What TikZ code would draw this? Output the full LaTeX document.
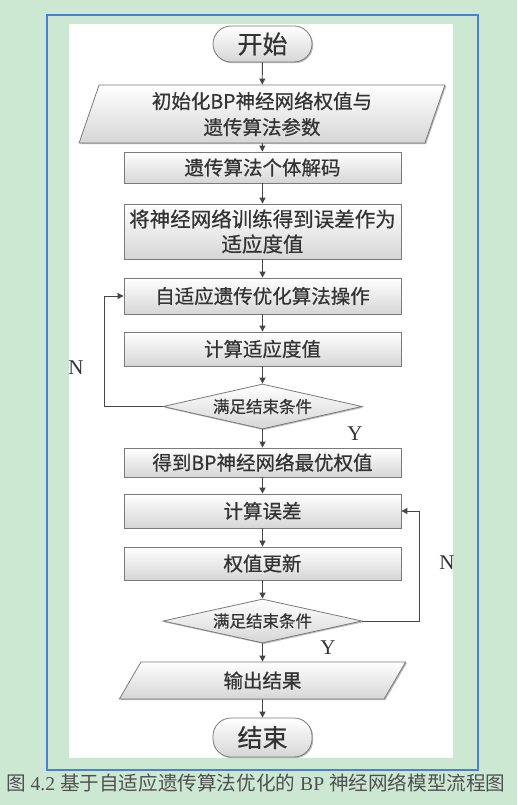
\documentclass[tikz,border=0pt]{standalone}
\usepackage{fontspec}
\setmainfont{Liberation Serif}
\newfontfamily\cjk{Noto Sans CJK SC}
\newfontfamily\cjkb[FakeBold=0.6]{Noto Sans CJK SC}
\usetikzlibrary{shapes.geometric,arrows.meta,shadows}
\definecolor{bggreen}{HTML}{CDE8D2}
\definecolor{frameblue}{HTML}{4A80D0}
\definecolor{edgegray}{HTML}{7A7A7A}
\definecolor{linegray}{HTML}{454545}
\definecolor{shadegray}{HTML}{D6D6D6}
\definecolor{captiongray}{HTML}{505050}
\tikzset{
  shapebase/.style={draw=edgegray, line width=0.8pt, top color=white, bottom color=shadegray,
    drop shadow={shadow xshift=1.2pt, shadow yshift=-1.2pt, fill=black!45, opacity=0.6},
    inner sep=0pt, font=\cjkb\fontsize{19.5}{26}\selectfont, align=center, text=black!80},
  procbox/.style={shapebase, rectangle, minimum width=277, text width=272},
  termbox/.style={shapebase, rectangle, rounded corners=18pt, minimum width=99, font=\cjkb\fontsize{25}{28}\selectfont},
  iobox/.style={shapebase, trapezium, trapezium stretches=true},
  decbox/.style={shapebase, diamond, aspect=4.4, minimum width=199, minimum height=45, font=\cjkb\fontsize{16.5}{18}\selectfont},
  arr/.style={draw=linegray, line width=0.9pt, -{Triangle[length=6pt,width=6pt]}},
  lbl/.style={font=\fontsize{21}{22}\selectfont, text=black!80, inner sep=0pt}
}
\begin{document}
\begin{tikzpicture}[x=1pt,y=-1pt]
\useasboundingbox (0,0) rectangle (517,805);
\fill[bggreen] (0,0) rectangle (517,805);
\draw[frameblue, line width=2pt] (47,15) rectangle (478,770);
\fill[white] (69,24) rectangle (453,758);

\node[termbox, minimum height=36] (start) at (262.5,44) {开始};
\node[iobox, trapezium left angle=73, trapezium right angle=107, minimum width=366, minimum height=58] (init) at (262,114) {初始化BP神经网络权值与\\遗传算法参数};
\node[procbox, minimum height=31] (decode) at (262.5,167.5) {遗传算法个体解码};
\node[procbox, minimum height=55, font=\cjkb\fontsize{20.5}{25}\selectfont] (fit) at (262.5,231.5) {将神经网络训练得到误差作为\\适应度值};
\node[procbox, minimum height=36] (ga) at (262.5,296) {自适应遗传优化算法操作};
\node[procbox, minimum height=34] (calc) at (262.5,349) {计算适应度值};
\node[decbox] (d1) at (262.5,406.5) {满足结束条件};
\node[procbox, minimum height=29] (best) at (262.5,462.5) {得到BP神经网络最优权值};
\node[procbox, minimum height=34] (err) at (262.5,511) {计算误差};
\node[procbox, minimum height=33] (upd) at (262.5,563.5) {权值更新};
\node[decbox, minimum height=44] (d2) at (262.5,621) {满足结束条件};
\node[iobox, trapezium left angle=69, trapezium right angle=111, minimum width=289, minimum height=37] (out) at (262.5,680.5) {输出结果};
\node[termbox, minimum height=39] (stop) at (262.5,737.5) {结束};

\draw[arr] (start) -- (init);
\draw[arr] (init) -- (decode);
\draw[arr] (decode) -- (fit);
\draw[arr] (fit) -- (ga);
\draw[arr] (ga) -- (calc);
\draw[arr] (calc) -- (d1);
\draw[arr] (d1) -- (best);
\draw[arr] (best) -- (err);
\draw[arr] (err) -- (upd);
\draw[arr] (upd) -- (d2);
\draw[arr] (d2) -- (out);
\draw[arr] (out) -- (stop);
\draw[arr] (d1.west) -- ++(-58,0) |- (ga.west);
\draw[arr] (d2.east) -- ++(57,0) |- (err.east);

\node[lbl] (n1) at (76,368) {N};
\node[lbl] (y1) at (355,434) {Y};
\node[lbl] (n2) at (447,563) {N};
\node[lbl] (y2) at (328,648) {Y};

\node[anchor=west, inner sep=0pt, text=captiongray, font=\fontsize{19.6}{22}\selectfont] (cap) at (6,783)
  {{\cjk 图} 4.2 {\cjk 基于自适应遗传算法优化的} BP {\cjk 神经网络模型流程图}};
\end{tikzpicture}
\end{document}
